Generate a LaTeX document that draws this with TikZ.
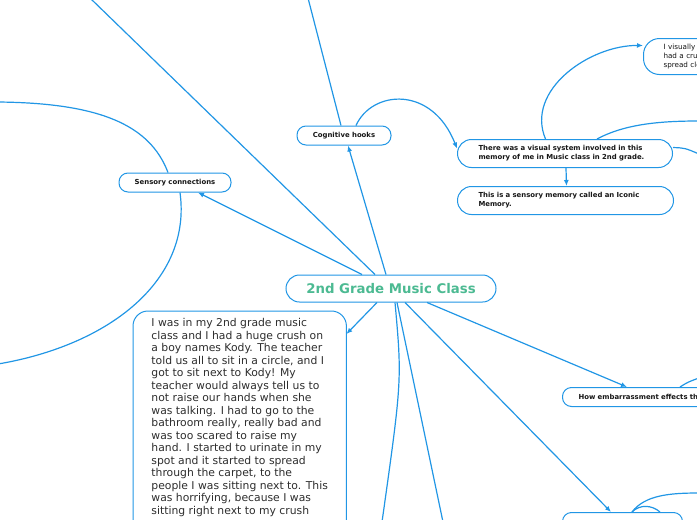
\documentclass[tikz,border=0pt]{standalone}
\usepackage{fontspec}
\setmainfont{DejaVu Sans}
\usetikzlibrary{arrows.meta}
\definecolor{mapblue}{RGB}{33,150,229}
\definecolor{titlegreen}{RGB}{76,186,146}
\definecolor{inkdark}{RGB}{22,22,22}
\definecolor{storyink}{RGB}{45,45,45}

\begin{document}
\begin{tikzpicture}[x=1pt, y=-1pt,
	topic/.style={draw=mapblue, line width=1pt, fill=white, rounded corners=9pt, minimum height=19pt, text=inkdark, font=\fontsize{6.9}{9}\selectfont\bfseries},
	note/.style={topic, align=left, inner xsep=21pt, rounded corners=14pt, minimum height=28pt},
	link/.style={draw=mapblue, line width=1.2pt},
	arr/.style={link, -{Latex[length=6pt,width=5pt]}}]
\clip (0,0) rectangle (697,520);

% central topic
	\node[topic, minimum width=210pt, minimum height=27pt, rounded corners=13.5pt, text=titlegreen, font=\fontsize{13.3}{16}\selectfont\bfseries] (root) at (391,288.5) {2nd Grade Music Class};

% first level
	\node[topic, minimum width=94pt] (cog) at (344,135.5) {Cognitive hooks};
	\node[topic, minimum width=112pt] (sens) at (175,182.5) {Sensory connections};
	\node[topic, anchor=north west, text width=150pt, align=left, inner xsep=16pt] (emb) at (562,387) {How embarrassment effects the};
	\node[topic, anchor=north west, minimum width=120pt, minimum height=30pt] (low) at (562,512) {};

% story text
	\node[anchor=north west, align=left, inner xsep=16pt, inner ysep=7.5pt, minimum width=213pt, text=storyink, font=\fontsize{10.8}{12.5}\selectfont] (story) at (133,311) {I was in my 2nd grade music\\class and I had a huge crush on\\a boy names Kody. The teacher\\told us all to sit in a circle, and I\\got to sit next to Kody! My\\teacher would always tell us to\\not raise our hands when she\\was talking. I had to go to the\\bathroom really, really bad and\\was too scared to raise my\\hand. I started to urinate in my\\spot and it started to spread\\through the carpet, to the\\people I was sitting next to. This\\was horrifying, because I was\\sitting right next to my crush};
	\draw[draw=mapblue, line width=1pt, rounded corners=15pt] (story.north west) rectangle ([yshift=-40pt]story.south east);

% visual branch
	\node[note, anchor=north west, text width=173pt] (vis) at (457,139) {There was a visual system involved in this\\memory of me in Music class in 2nd grade.};
	\node[note, anchor=north west, text width=174pt] (icon) at (457,186) {This is a sensory memory called an Iconic\\Memory.};
	\node[note, anchor=north west, text width=80pt, inner xsep=20pt, minimum height=36pt, rounded corners=16pt, font=\fontsize{7.2}{9}\selectfont] (seen) at (643,38) {I visually\\had a crush\\spread close};

% loose ends
	\coordinate (farTL) at (90,-2);
	\coordinate (farT) at (308,-2);
	\coordinate (farB1) at (382,522);
	\coordinate (farB2) at (443,522);
	\coordinate (farL1) at (-2,102);
	\coordinate (farL2) at (-2,364);
	\coordinate (farR1) at (699,121);
	\coordinate (farR2) at (699,154);
	\coordinate (farR3) at (699,378);
	\coordinate (farR4) at (699,493);

% main branches
\draw[arr] ([xshift=-5pt]root.north) -- ([xshift=4pt]cog.south);
\draw[arr] ([xshift=-29pt]root.north) -- ([xshift=23pt]sens.south);
\draw[arr] ([xshift=-14pt]root.south) -- ([yshift=-23pt]story.north east);
\draw[arr] ([xshift=36pt]root.south) -- ([xshift=65pt]emb.north west);
\draw[arr] ([xshift=14pt]root.south) -- ([xshift=49pt]low.north west);
\draw[link] ([xshift=-16pt]root.north) -- (farTL);
\draw[link] ([xshift=4pt]root.south) .. controls (402,380) .. (farB1);
\draw[link] ([xshift=6pt]root.south) -- (farB2);

% hooks and visual memory
\draw[link] ([xshift=-3pt]cog.north) -- (farT);
\draw[arr] ([xshift=12pt]cog.north) .. controls (372,90) and (432,85) .. ([yshift=5pt]vis.west);
\draw[arr] ([xshift=1pt]vis.south) -- ([xshift=1pt]icon.north);
\draw[arr] ([xshift=-19.5pt]vis.north) .. controls (525,90) and (590,45) .. ([yshift=11pt]seen.west);
\draw[link] ([xshift=32pt]vis.north) .. controls (625,124) and (660,121) .. (farR1);
\draw[link] ([yshift=6pt]vis.east) .. controls (685,148) .. (farR2);

% sensory loop
\draw[link] ([xshift=-7pt]sens.north) .. controls (150,125) and (100,103) .. (farL1);
\draw[link] ([xshift=5pt]sens.south) .. controls (192,280) and (110,345) .. (farL2);

% right side
\draw[link] ([xshift=118pt]emb.north west) .. controls (688,382) .. (farR3);
\draw[link] ([xshift=70pt]low.north west) .. controls (645,495) and (670,493) .. (farR4);
\draw[link] ([xshift=70pt]low.north west) .. controls (640,504) and (652,505) .. ([xshift=98pt]low.north west);

\end{tikzpicture}
\end{document}
